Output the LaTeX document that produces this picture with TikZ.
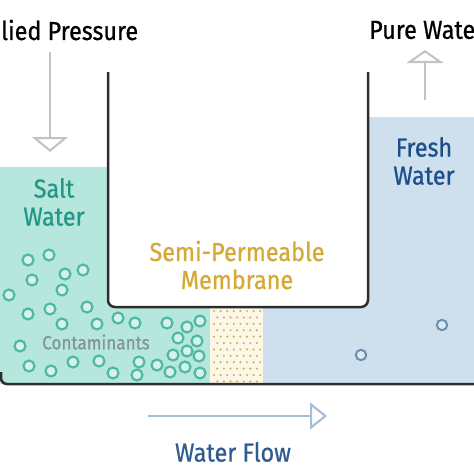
\documentclass[tikz,border=0pt]{standalone}
\usepackage{fontspec}
\setmainfont[FakeStretch=0.9, FakeBold=0.7]{Fira Sans}
\usetikzlibrary{arrows.meta}
\definecolor{saltfill}{RGB}{182,231,221}
\definecolor{freshfill}{RGB}{206,223,238}
\definecolor{membfill}{RGB}{253,248,230}
\definecolor{tankline}{RGB}{45,45,45}
\definecolor{salttext}{RGB}{36,150,135}
\definecolor{freshtext}{RGB}{30,78,138}
\definecolor{membtext}{RGB}{214,168,52}
\definecolor{conttext}{RGB}{130,148,152}
\definecolor{flowtext}{RGB}{46,92,142}
\definecolor{graparrow}{RGB}{195,195,195}
\definecolor{flowarrow}{RGB}{165,190,212}
\definecolor{saltcircle}{RGB}{80,185,165}
\definecolor{saltcirclein}{RGB}{215,242,236}
\definecolor{freshcircle}{RGB}{105,143,172}
\definecolor{membdot}{RGB}{200,180,110}
\tikzset{
  lbl/.style={font=\fontsize{26}{28}\selectfont, inner sep=0pt, align=center},
  bigarrow/.style={line width=2.3pt, draw=graparrow},
  contam/.style={draw=saltcircle, fill=saltcirclein, line width=2.2pt},
  freshc/.style={draw=freshcircle, fill=freshfill!70!white, line width=2pt},
}
\begin{document}
\begin{tikzpicture}[x=1pt,y=-1pt]
\useasboundingbox (0,0) rectangle (474,474);
% water fills
\fill[saltfill] (0,167) rectangle (120,384);
\fill[saltfill] (0,300) rectangle (210,384);
\fill[freshfill] (358,117) rectangle (474,384);
\fill[freshfill] (263,300) rectangle (474,384);
% membrane
\fill[membfill] (210,300) rectangle (263,384);
\foreach \r in {0,...,11}{
  \pgfmathsetmacro{\yy}{311+6.4*\r}
  \pgfmathsetmacro{\off}{mod(\r,2)*3.3}
  \foreach \c in {0,...,7}{
    \pgfmathsetmacro{\xx}{214+6.6*\c+\off}
    \ifdim\xx pt<261pt
      \fill[membdot] (\xx,\yy) circle (1.2);
    \fi
  }
}
% inner U (white interior)
\fill[white, rounded corners=7] (108,40) -- (108,307) -- (368,307) -- (368,40) -- cycle;
\fill[white] (108,40) rectangle (368,80);
\coordinate (ua) at (108,72);
\coordinate (ub) at (108,307);
\coordinate (uc) at (368,307);
\coordinate (ud) at (368,72);
\draw[tankline, line width=2.5pt, rounded corners=7] (ua) -- (ub) -- (uc) -- (ud);
% tank bottom
\coordinate (ta) at (1,372);
\coordinate (tb) at (474,384);
\draw[tankline, line width=2.5pt, rounded corners=6] (ta) |- (tb);
% contaminants
\foreach \x/\y in {28/260,49/255,83/270,65/274,32/280,62/290,9/295,28/314,50/309,87/307,
  62/324,97/324,118/318,135/323,167/323,187/327,200/321,20/346,178/338,197/341,187/351,
  173/355,199/356,29/366,51/371,73/362,99/361,113/373,139/362,137/375,157/365,170/372,
  185/367,200/373}{
  \draw[contam] (\x,\y) circle (5.5);
}
\draw[freshc] (442,325) circle (5.2);
\draw[freshc] (361,355) circle (5.2);
% labels
\node[lbl, anchor=west] (press) at (1,30) {lied Pressure};
\node[lbl, anchor=west] (pure) at (369,30) {Pure Wate};
\node[lbl, text=salttext] (salt) at (54,202) {Salt\\Water};
\node[lbl, text=freshtext] (fresh) at (424,161) {Fresh\\Water};
\node[lbl, text=membtext] (memb) at (237,265) {Semi-Permeable\\Membrane};
\node[font=\fontsize{19}{20}\selectfont, text=conttext, inner sep=0pt] (cont) at (96,342) {Contaminants};
\node[lbl, text=flowtext] (flow) at (233,452) {Water Flow};
% arrows
\coordinate (pa) at (50,52);
\coordinate (pb) at (50,152);
\draw[bigarrow, -{Triangle[open, length=15pt, width=36pt, line width=2.1pt]}] (pa) -- (pb);
\coordinate (qa) at (425,100);
\coordinate (qb) at (425,50);
\draw[bigarrow, -{Triangle[open, length=13pt, width=37pt, line width=2.1pt]}] (qa) -- (qb);
\coordinate (fa) at (148,416);
\coordinate (fb) at (327,416);
\draw[line width=2.3pt, draw=flowarrow, -{Triangle[open, length=17pt, width=27pt, line width=2.1pt]}] (fa) -- (fb);
\end{tikzpicture}
\end{document}
